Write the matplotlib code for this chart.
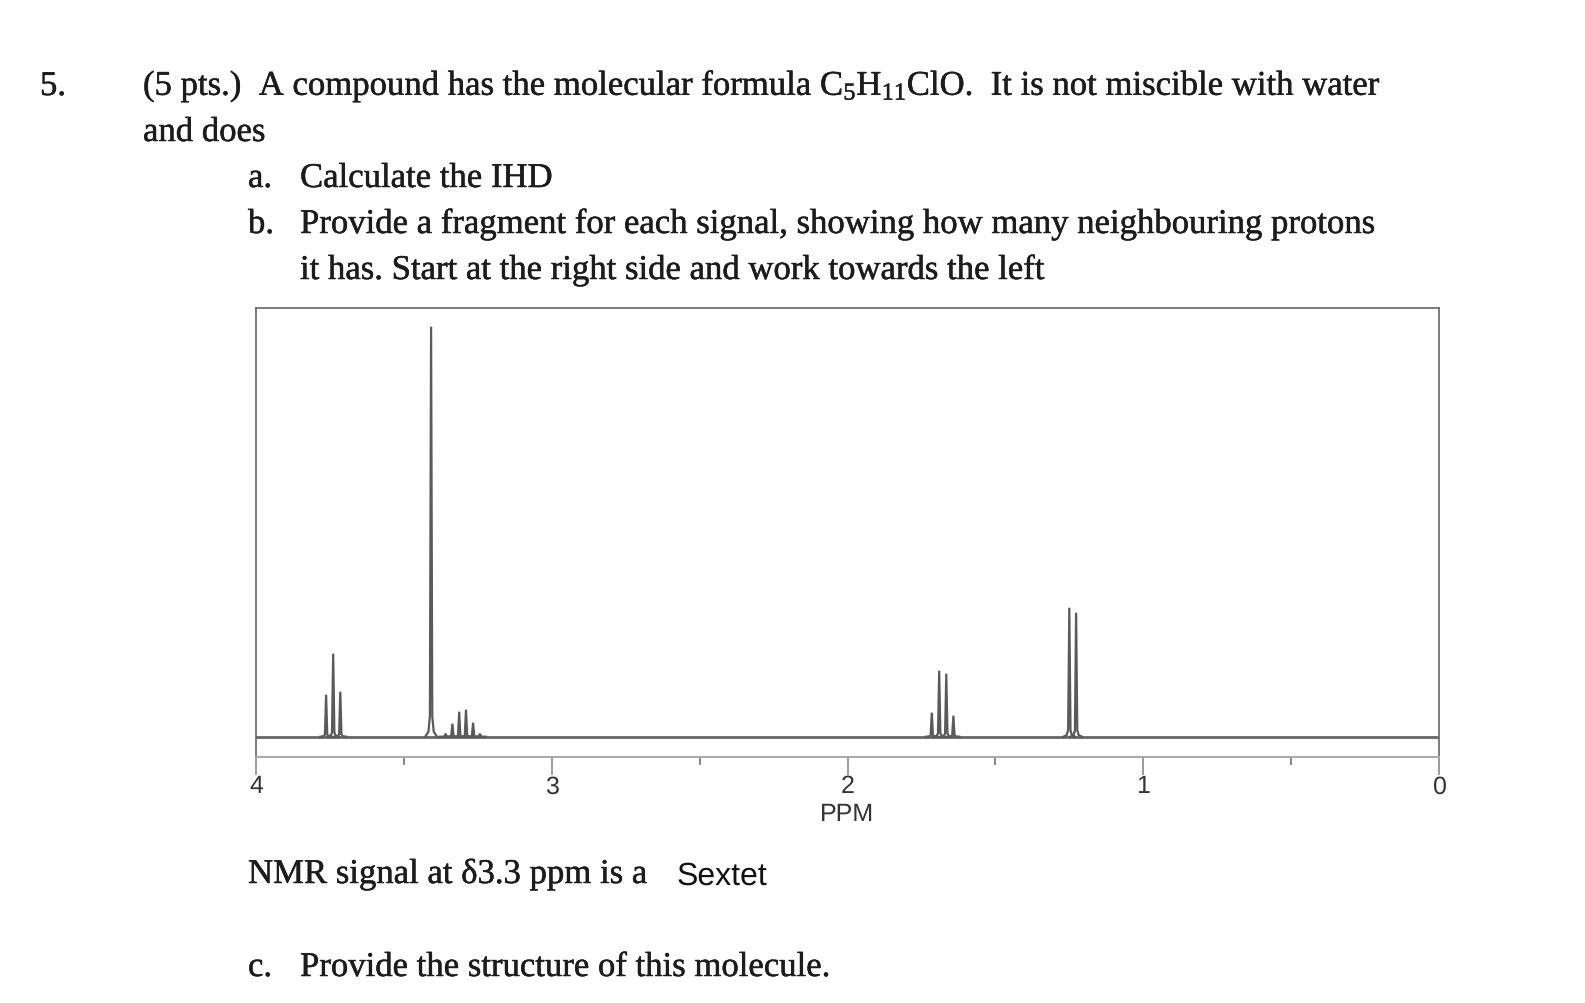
import matplotlib
matplotlib.use('Agg')
import matplotlib.pyplot as plt
import matplotlib.patheffects as pe

plt.rcParams['font.family'] = ['Liberation Serif', 'DejaVu Serif']
plt.rcParams['mathtext.fontset'] = 'custom'
plt.rcParams['mathtext.rm'] = 'Liberation Serif'
plt.rcParams['mathtext.default'] = 'rm'
plt.rcParams['text.hinting'] = 'no_hinting'

W, H = 1585, 1004

# spectrum, one list per multiplet: ppm and height above baseline
triplet_ppm = [3.763, 3.739, 3.715]
triplet_int = [42, 83, 45]
singlet_ppm = [3.408]
singlet_int = [410]
sextet_ppm = [3.359, 3.336, 3.313, 3.290, 3.266, 3.243]
sextet_int = [3, 13, 25, 27, 14, 3]
quartet_ppm = [1.715, 1.690, 1.666, 1.642]
quartet_int = [24, 66, 63, 21]
doublet_ppm = [1.250, 1.227]
doublet_int = [129, 124]

major_ticks = [4, 3, 2, 1, 0]
minor_ticks = [3.5, 2.5, 1.5, 0.5]

ink = '#5a5a5a'
text_col = '#1c1c1c'

fig = plt.figure(figsize=(W / 100, H / 100), dpi=100)
ax = fig.add_axes([256 / W, 1 - 758 / H, (1439 - 256) / W, (758 - 309) / H])

ax.set_xlim(4, 0)
ax.set_ylim(-20.3, 428.7)

# baseline and sticks, each stick flares out a little at the foot
ax.axhline(0, color='#666666', lw=2.0)
for ppm, vals in [(triplet_ppm, triplet_int), (singlet_ppm, singlet_int),
                  (sextet_ppm, sextet_int), (quartet_ppm, quartet_int),
                  (doublet_ppm, doublet_int)]:
    for p, v in zip(ppm, vals):
        ax.plot([p + 0.02, p + 0.009, p + 0.004, p, p - 0.004, p - 0.009, p - 0.02],
                [0, 0.012 * v, 0.05 * v, v, 0.05 * v, 0.012 * v, 0],
                color=ink, lw=1.6, solid_joinstyle='miter')

ax.set_yticks([])
ax.set_xticks(major_ticks)
ax.set_xticklabels([str(t) for t in major_ticks], family='Liberation Sans',
                   fontsize=18, color='#333333')
ax.set_xticks(minor_ticks, minor=True)
ax.tick_params(axis='x', which='major', length=13, width=1.2, color='#8a8a8a', pad=-0.5)
ax.tick_params(axis='x', which='minor', length=6, width=1.5, color='#8a8a8a')
for side in ['top', 'left', 'right']:
    ax.spines[side].set_color('#666666')
    ax.spines[side].set_linewidth(1.2)
ax.spines['bottom'].set_color('#a8a8a8')
ax.spines['bottom'].set_linewidth(1.4)

fig.text(847 / W, 1 - 821 / H, 'PPM', family='Liberation Sans', fontsize=18,
         color='#333333', ha='center', va='baseline')

heavier = [pe.withStroke(linewidth=0.35, foreground=text_col)]


def put(x, y, s, **kw):
    opts = dict(fontsize=25, color=text_col, ha='left', va='baseline',
                path_effects=heavier)
    opts.update(kw)
    fig.text(x / W, 1 - y / H, s, **opts)


put(40, 96, '5.')
put(143, 96, '(5 pts.)  A compound has the molecular formula C$_{5}$H$_{11}$ClO.  It is not miscible with water')
put(143, 142, 'and does')
put(248, 188, 'a.')
put(300, 188, 'Calculate the IHD')
put(248, 234, 'b.')
put(300, 234, 'Provide a fragment for each signal, showing how many neighbouring protons')
put(300, 280, 'it has. Start at the right side and work towards the left')
put(248, 884, 'NMR signal at δ3.3 ppm is a')
put(677, 885, 'Sextet', family='Liberation Sans', fontsize=23, color='#111111', path_effects=None)
put(248, 977, 'c.')
put(300, 977, 'Provide the structure of this molecule.')

fig.savefig('out.png', dpi=100)
